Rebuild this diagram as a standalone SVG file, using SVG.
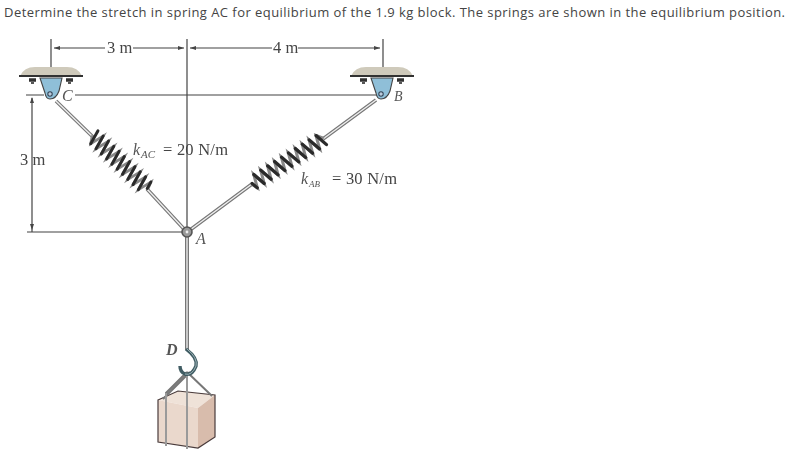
<svg xmlns="http://www.w3.org/2000/svg" xmlns:xlink="http://www.w3.org/1999/xlink" width="799" height="467" viewBox="0 0 799 467">
<style>
.hdr{font:13px "Open Sans",sans-serif;fill:#444}
.lab{font-family:"Liberation Serif",serif;font-size:16.5px;fill:#444}
.it{font-family:"Liberation Serif",serif;font-style:italic;font-size:16px;fill:#555}
.sub{font-family:"Liberation Serif",serif;font-style:italic;font-size:11px;fill:#555}
.dim{fill:none;stroke:#444;stroke-width:1.2}
.rodo{fill:none;stroke:#777;stroke-width:3.6}
.rodi{fill:none;stroke:#eee;stroke-width:1.4}
.back{fill:none;stroke:#888;stroke-width:3}
.front{fill:none;stroke:#2c2c2c;stroke-width:3.2;stroke-linecap:round}
.head{fill:#444}
</style>
<defs>
<filter id="soft" x="-5%" y="-5%" width="110%" height="110%"><feGaussianBlur stdDeviation="0.5"/></filter>
<g id="coil">
<path class="back" d="M-1 0L4 7 8-7 12 7 16-7 20 7 24-7 28 7 32-7 36 7 40-7 44 7 48-7 52 7 56-7 60 7 64-7 68 7 72-7 76 7 80-7 83 0"/>
<path class="front" d="M0-7L4 7M8-7L12 7M16-7L20 7M24-7L28 7M32-7L36 7M40-7L44 7M48-7L52 7M56-7L60 7M64-7L68 7M72-7L76 7M80-7L82 0"/>
</g>
<g id="mount">
<path d="M-31-19Q-27-28-16-28H16Q27-28 31-19Z" fill="#cfcabb"/>
<path d="M-32-19H32" stroke="#333" stroke-width="1.8" fill="none"/>
<path d="M-22-15h7M15-15h7" stroke="#333" stroke-width="3.5" fill="none"/>
<path d="M-20-12h3M17-12h3" stroke="#555" stroke-width="2" fill="none"/>
<path d="M-11-17H11L8-4Q5 4-1 4Q-5 4-6-2Z" fill="#8fbfd8" stroke="#444" stroke-width="1.1"/>
<circle cx="-1" cy="-1" r="2.2" fill="#bcd" stroke="#345" stroke-width="1.1"/>
</g>
</defs>
<text class="hdr" x="4" y="17" textLength="781" lengthAdjust="spacing">Determine the stretch in spring AC for equilibrium of the 1.9 kg block. The springs are shown in the equilibrium position.</text>
<g filter="url(#soft)">
<g id="connectors">
<path class="dim" d="M51 39V67M187 39V232M383 39V67M54 48H105M133 48H184M190 48H272M298 48H380M26 95H44M75 95H376M32 98V232M27 232H187"/>
<path class="head" d="M54 48l6-2v4ZM184 48l-6-2v4ZM190 48l6-2v4ZM380 48l-6-2v4ZM32 97l-2 6h4ZM32 230l-2-6h4Z"/>
<g id="spring-AC">
<path class="rodo" d="M56 101L93 137M147 189L184 229"/><path class="rodi" d="M56 101L93 137M147 189L184 229"/>
<use xlink:href="#coil" href="#coil" transform="translate(93 136) rotate(44) scale(.92 1)"/>
</g>
<g id="spring-AB">
<path class="rodo" d="M376 100L323 139M252 184L190 230"/><path class="rodi" d="M376 100L323 139M252 184L190 230"/>
<use xlink:href="#coil" href="#coil" transform="translate(323 139) rotate(148) scale(1.02 .95)"/>
</g>
<g id="rod-AD">
<path d="M187 235V350" fill="none" stroke="#777" stroke-width="4"/><path d="M187 235V350" fill="none" stroke="#ddd" stroke-width="1.6"/>
</g>
</g>
<g id="node-C"><use xlink:href="#mount" href="#mount" transform="translate(51 95)"/><text class="it" x="62" y="101">C</text></g>
<g id="node-B"><use xlink:href="#mount" href="#mount" transform="translate(382 95)"/><text class="it" x="394" y="101" style="font-size:14px">B</text></g>
<g id="node-A">
<circle cx="187" cy="232" r="5" fill="#999" stroke="#555" stroke-width="1.6"/><circle cx="187" cy="232" r="1.4" fill="#eee"/>
<text class="it" x="196" y="244">A</text>
</g>
<g id="block-D">
<text class="it" x="166" y="355" font-weight="bold">D</text>
<path d="M158 400L178 391 215 395 198 408Z" fill="#efe2d8"/>
<path d="M158 400L198 408V448L158 442Z" fill="#ead8cc"/>
<path d="M198 408L215 395V437L198 448Z" fill="#d8bcac"/>
<path d="M158 400L178 391 215 395V437L198 448 158 442Z" fill="none" stroke="#4a3c3c" stroke-width="1.2"/>
<path d="M187 372L166 393V446M187 372L212 396M187 372V449M190 372L163 399" fill="none" stroke="#777" stroke-width="2"/>
<path d="M166 393V446M187 376V449" fill="none" stroke="#ddd" stroke-width=".7"/>
<path d="M186 349Q198 358 196 366Q192 376 185 374Q180 372 180 366" fill="none" stroke="#3f5c63" stroke-width="3.4"/>
<path d="M187 349Q198 358 196 366Q192 376 185 374" fill="none" stroke="#9fb4b8" stroke-width="1"/>
</g>
<g id="labels">
<text class="lab" x="107" y="53">3 m</text>
<text class="lab" x="273" y="53">4 m</text>
<text class="lab" x="20" y="165">3 m</text>
<text class="it" x="133" y="155">k</text><text class="sub" x="141" y="158">AC</text><text class="lab" x="163" y="155" textLength="65">= 20 N/m</text>
<text class="it" x="301" y="184">k</text><text class="sub" x="309" y="187" style="font-size:9px">AB</text><text class="lab" x="332" y="184" textLength="65">= 30 N/m</text>
</g>
</g>
</svg>
